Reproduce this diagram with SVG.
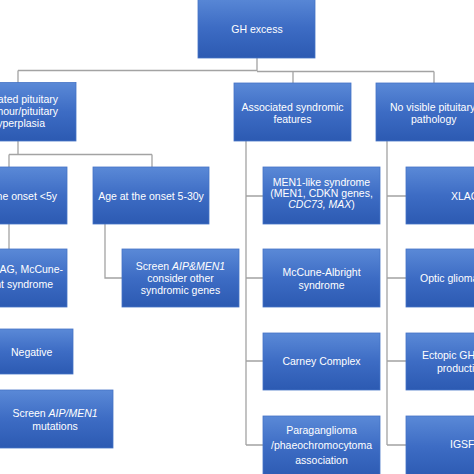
<svg xmlns="http://www.w3.org/2000/svg" width="474" height="474" viewBox="0 0 474 474">
<defs>
<linearGradient id="g" x1="0" y1="0" x2="0" y2="1">
<stop offset="0" stop-color="#5a89d7"/>
<stop offset="0.5" stop-color="#3d6cc4"/>
<stop offset="1" stop-color="#2c5ab2"/>
</linearGradient>
<style>
.b{fill:url(#g);stroke:#4573c6;stroke-width:0.8}
.t{font-family:"Liberation Sans",Arial,sans-serif;font-size:10.5px;fill:#ffffff;text-anchor:middle}
.e{text-anchor:end}
.s{text-anchor:start}
.i{font-style:italic}
.c{fill:none;stroke:#a3a3a3;stroke-width:1.3}
</style>
</defs>
<rect width="474" height="474" fill="#ffffff"/>
<g id="connectors" class="c">
<path d="M257,58 V71 M18,70.5 H257 M257,71.5 H434 M18,70.5 V83 M293,71.5 V83 M434,71.5 V83"/>
<path d="M18,141 V154.5 M9,154.5 H152 M9,154.5 V167 M152,154.5 V167"/>
<path d="M9,224 V249"/>
<path d="M105,224 V278 H122"/>
<path d="M246,141 V445 M246,196 H263 M246,278 H263 M246,361 H263 M246,445 H263"/>
<path d="M387,141 V445 M387,196 H406 M387,278 H406 M387,361 H406 M387,445 H406"/>
</g>
<g id="gh"><rect class="b" x="198" y="-3" width="117" height="61"/><text class="t" x="257" y="33">GH excess</text></g>
<g id="isolated"><rect class="b" x="-41" y="82.5" width="117" height="58.5"/>
<text class="t e" x="58" y="103">Isolated pituitary</text>
<text class="t e" x="58" y="115">tumour/pituitary</text>
<text class="t e" x="45" y="127">hyperplasia</text></g>
<g id="associated"><rect class="b" x="234" y="83" width="117" height="58"/>
<text class="t" x="292.5" y="111">Associated syndromic</text>
<text class="t" x="292.5" y="123">features</text></g>
<g id="novisible"><rect class="b" x="376" y="83" width="117" height="58"/>
<text class="t s" x="390" y="111">No visible pituitary</text>
<text class="t s" x="411" y="123">pathology</text></g>
<g id="onset5"><rect class="b" x="-50" y="167" width="117" height="57"/>
<text class="t e" x="57" y="200">Age at the onset &lt;5y</text></g>
<g id="onset530"><rect class="b" x="93" y="167" width="116" height="57"/>
<text class="t" x="151" y="200">Age at the onset 5-30y</text></g>
<g id="xlagmccune"><rect class="b" x="-50" y="249" width="117" height="58"/>
<text class="t e" x="63" y="273">XLAG, McCune-</text>
<text class="t e" x="53" y="288">Albright syndrome</text></g>
<g id="screen1"><rect class="b" x="122" y="249" width="117" height="58"/>
<text class="t" x="180.5" y="270">Screen <tspan class="i">AIP&amp;MEN1</tspan></text>
<text class="t" x="180.5" y="282">consider other</text>
<text class="t" x="180.5" y="294">syndromic genes</text></g>
<g id="negative"><rect class="b" x="-10" y="329" width="83" height="45"/>
<text class="t s" x="11" y="356">Negative</text></g>
<g id="screen2"><rect class="b" x="-3" y="390" width="116" height="58"/>
<text class="t" x="55" y="417">Screen <tspan class="i">AIP/MEN1</tspan></text>
<text class="t" x="55" y="430">mutations</text></g>
<g id="men1"><rect class="b" x="263" y="167" width="117" height="57"/>
<text class="t" x="321.5" y="186">MEN1-like syndrome</text>
<text class="t" x="321.5" y="197">(MEN1, CDKN genes,</text>
<text class="t" x="321.5" y="208"><tspan class="i">CDC73, MAX</tspan>)</text></g>
<g id="mccune"><rect class="b" x="263" y="249" width="117" height="58"/>
<text class="t" x="321.5" y="276">McCune-Albright</text>
<text class="t" x="321.5" y="289">syndrome</text></g>
<g id="carney"><rect class="b" x="263" y="333" width="117" height="57"/>
<text class="t" x="321.5" y="365">Carney Complex</text></g>
<g id="paraganglioma"><rect class="b" x="263" y="416" width="117" height="62"/>
<text class="t" x="321.5" y="434">Paraganglioma</text>
<text class="t" x="321.5" y="449">/phaeochromocytoma</text>
<text class="t" x="321.5" y="464">association</text></g>
<g id="xlag"><rect class="b" x="406" y="167" width="117" height="57"/>
<text class="t s" x="451" y="200">XLAG</text></g>
<g id="optic"><rect class="b" x="406" y="249" width="117" height="58"/>
<text class="t s" x="420" y="282">Optic glioma</text></g>
<g id="ectopic"><rect class="b" x="406" y="333" width="117" height="57"/>
<text class="t s" x="422" y="359">Ectopic GH/GHRH</text>
<text class="t s" x="437" y="372">production</text></g>
<g id="igsf1"><rect class="b" x="406" y="416" width="117" height="62"/>
<text class="t s" x="450" y="448">IGSF1</text></g>
</svg>
